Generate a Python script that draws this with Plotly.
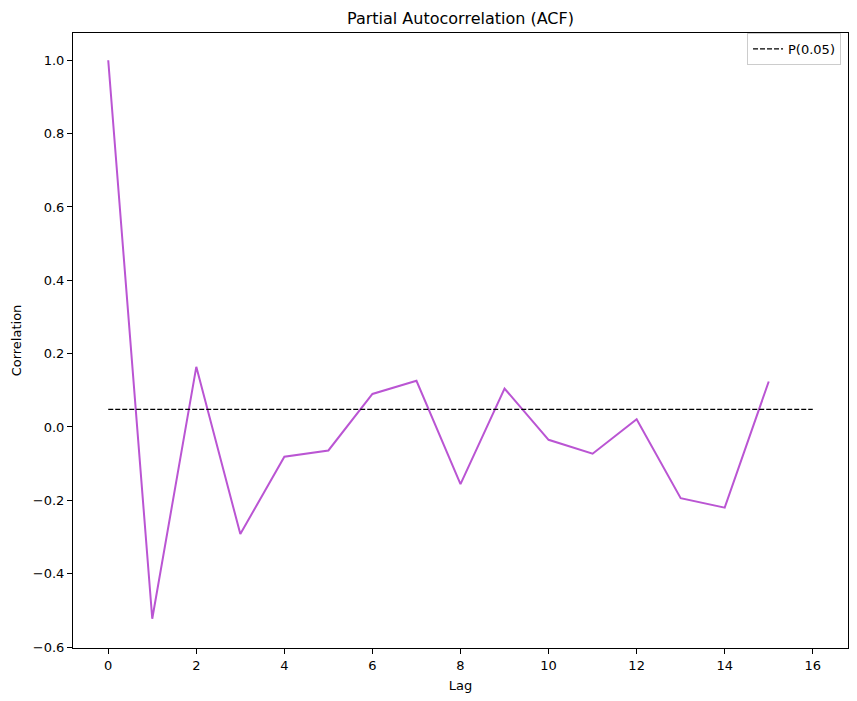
import plotly.graph_objects as go

# Partial autocorrelation values
lags = list(range(16))
pacf_values = [1.0, -0.523, 0.164, -0.292, -0.081, -0.064, 0.090, 0.126,
               -0.156, 0.105, -0.035, -0.073, 0.021, -0.194, -0.220, 0.124]

# Significance line
sig_x = [0, 16]
sig_y = [0.048, 0.048]

x_ticks = [0, 2, 4, 6, 8, 10, 12, 14, 16]
y_ticks = [-0.6, -0.4, -0.2, 0.0, 0.2, 0.4, 0.6, 0.8, 1.0]

font_name = "DejaVu Sans"

# page body has an 8px margin, so the figure is a bit smaller than the window
fig_w = 849
fig_h = 693

fig = go.Figure()

fig.add_trace(
    go.Scatter(
        x=lags,
        y=pacf_values,
        mode='lines',
        line=dict(color='#BA55D3', width=2),
        showlegend=False
    )
)

fig.add_trace(
    go.Scatter(
        x=sig_x,
        y=sig_y,
        mode='lines',
        name='P(0.05)',
        line=dict(color='black', width=1.3, dash='5px,2px')
    )
)

axis_style = dict(
    showline=True,
    linecolor='black',
    linewidth=1,
    mirror=True,
    ticks='outside',
    ticklen=5,
    tickwidth=1,
    tickcolor='black',
    showgrid=False,
    zeroline=False,
    automargin=False,
    tickfont=dict(family=font_name, size=13, color='black'),
)

fig.update_xaxes(
    range=[-0.8, 16.8],
    tickvals=x_ticks,
    ticktext=[str(t) for t in x_ticks],
    title=dict(text='Lag', font=dict(family=font_name, size=13, color='black'), standoff=9),
    **axis_style
)
fig.update_yaxes(
    range=[-0.6027, 1.0744],
    tickvals=y_ticks,
    ticktext=[f'{t:.1f}'.replace('-', '\u2212') for t in y_ticks],
    title=dict(text='Correlation', font=dict(family=font_name, size=13, color='black'), standoff=8),
    **axis_style
)

fig.update_layout(
    width=fig_w,
    height=fig_h,
    margin=dict(l=65, r=9, t=25, b=53, autoexpand=False),
    paper_bgcolor='white',
    plot_bgcolor='white',
    font=dict(family=font_name, color='black'),
    title=dict(
        text='Partial Autocorrelation (ACF)',
        x=(65 + fig_w - 9) / 2 / fig_w,
        xanchor='center',
        y=1 - 10 / fig_h,
        yanchor='middle',
        font=dict(family=font_name, size=16, color='black')
    ),
    legend=dict(
        x=0.991,
        y=1.0,
        xanchor='right',
        yanchor='top',
        bgcolor='rgba(255,255,255,0.8)',
        bordercolor='#cccccc',
        borderwidth=1,
        font=dict(family=font_name, size=13, color='black')
    ),
)

fig.write_html("out.html")
